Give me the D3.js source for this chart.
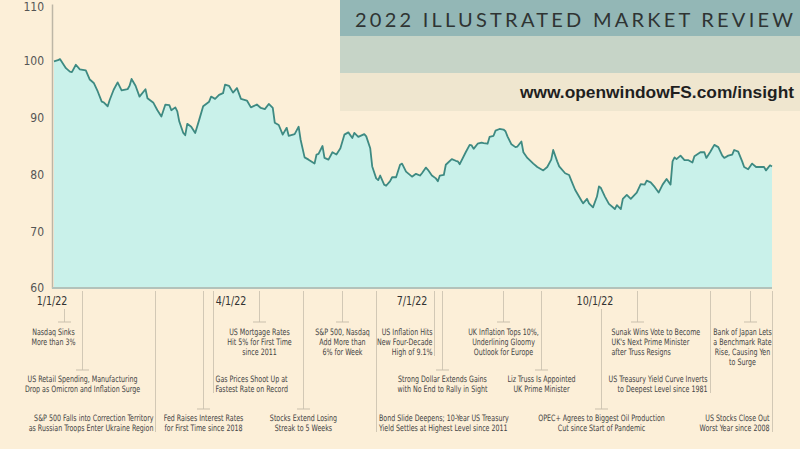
<!DOCTYPE html>
<html>
<head>
<meta charset="utf-8">
<script src="https://cdn.jsdelivr.net/npm/d3@7"></script>
<style>
  body { margin: 0; background: #fcefd8; }
  svg { display: block; }
  .narrow { font-family: "Liberation Sans Narrow", "DejaVu Sans Condensed", "Arial Narrow", sans-serif; }
</style>
</head>
<body>
<div id="chart"></div>
<script>
// index level through 2022 (start of year = 100)
var dates = [
  "2022-01-03","2022-01-05","2022-01-06","2022-01-09","2022-01-11","2022-01-12","2022-01-14","2022-01-16","2022-01-19","2022-01-21",
  "2022-01-23","2022-01-25","2022-01-27","2022-01-28","2022-01-30","2022-01-31","2022-02-02","2022-02-04","2022-02-06","2022-02-09",
  "2022-02-10","2022-02-11","2022-02-13","2022-02-15","2022-02-18","2022-02-19","2022-02-22","2022-02-24","2022-02-26","2022-02-28",
  "2022-03-02","2022-03-03","2022-03-05","2022-03-06","2022-03-07","2022-03-09","2022-03-10","2022-03-11","2022-03-13","2022-03-15",
  "2022-03-17","2022-03-19","2022-03-22","2022-03-23","2022-03-25","2022-03-27","2022-03-29","2022-03-30","2022-04-01","2022-04-03",
  "2022-04-05","2022-04-07","2022-04-10","2022-04-12","2022-04-15","2022-04-17","2022-04-19","2022-04-21","2022-04-23","2022-04-24",
  "2022-04-26","2022-04-28","2022-04-30","2022-05-01","2022-05-04","2022-05-06","2022-05-07","2022-05-09","2022-05-11","2022-05-14",
  "2022-05-15","2022-05-16","2022-05-18","2022-05-19","2022-05-21","2022-05-23","2022-05-25","2022-05-27","2022-05-29","2022-05-31",
  "2022-06-02","2022-06-03","2022-06-05","2022-06-08","2022-06-09","2022-06-11","2022-06-12","2022-06-14","2022-06-15","2022-06-16",
  "2022-06-18","2022-06-19","2022-06-21","2022-06-22","2022-06-24","2022-06-26","2022-06-27","2022-06-29","2022-07-02","2022-07-04",
  "2022-07-06","2022-07-07","2022-07-09","2022-07-10","2022-07-12","2022-07-14","2022-07-15","2022-07-16","2022-07-18","2022-07-19",
  "2022-07-22","2022-07-24","2022-07-25","2022-07-26","2022-07-29","2022-07-31","2022-08-01","2022-08-02","2022-08-04","2022-08-06",
  "2022-08-07","2022-08-09","2022-08-10","2022-08-12","2022-08-13","2022-08-15","2022-08-17","2022-08-18","2022-08-19","2022-08-21",
  "2022-08-23","2022-08-24","2022-08-26","2022-08-27","2022-08-29","2022-09-01","2022-09-03","2022-09-06","2022-09-08","2022-09-10",
  "2022-09-11","2022-09-13","2022-09-14","2022-09-17","2022-09-19","2022-09-20","2022-09-22","2022-09-25","2022-09-26","2022-09-28",
  "2022-09-29","2022-10-01","2022-10-03","2022-10-04","2022-10-05","2022-10-07","2022-10-09","2022-10-12","2022-10-13","2022-10-15",
  "2022-10-16","2022-10-18","2022-10-20","2022-10-23","2022-10-25","2022-10-27","2022-10-28","2022-10-30","2022-11-01","2022-11-03",
  "2022-11-05","2022-11-07","2022-11-09","2022-11-10","2022-11-11","2022-11-12","2022-11-14","2022-11-16","2022-11-18","2022-11-20",
  "2022-11-21","2022-11-24","2022-11-26","2022-11-27","2022-11-29","2022-12-01","2022-12-03","2022-12-05","2022-12-06","2022-12-08",
  "2022-12-10","2022-12-11","2022-12-13","2022-12-15","2022-12-16","2022-12-18","2022-12-20","2022-12-22","2022-12-24","2022-12-26",
  "2022-12-27","2022-12-29","2022-12-30"
];
var values = [
  99.9,100.1,100.3,98.7,98.1,98.0,99.3,98.5,98.3,96.7,
  96.1,94.6,92.8,92.7,92.0,93.1,94.9,96.2,94.8,95.0,
  95.6,96.8,95.6,93.7,95.0,93.4,92.6,91.3,90.2,92.3,
  92.2,91.3,91.8,91.1,89.3,87.3,86.9,88.9,88.4,87.3,
  89.6,92.0,92.8,93.7,93.3,94.0,94.3,95.8,95.6,94.4,
  95.2,93.3,93.0,91.8,92.3,91.7,91.5,92.4,91.7,89.1,
  88.7,87.0,88.2,86.8,87.1,88.4,86.1,83.0,82.6,81.9,
  83.5,83.6,85.0,82.9,82.6,83.9,83.5,84.6,87.0,87.4,
  86.4,87.3,86.6,87.1,86.7,84.6,81.4,79.3,79.0,79.8,
  78.2,78.0,78.8,79.5,79.5,81.7,81.9,80.5,79.6,80.1,
  79.8,80.2,81.2,80.8,79.8,79.3,78.8,79.8,79.9,81.7,
  82.7,82.4,82.3,81.8,83.9,85.2,85.1,84.5,85.4,85.6,
  85.5,85.4,86.6,86.8,87.7,88.0,87.9,87.6,86.7,85.3,
  84.8,84.9,85.8,83.9,82.9,81.9,81.3,80.7,81.3,82.6,
  84.3,82.3,81.4,80.2,79.9,79.0,77.3,75.5,74.9,75.7,
  74.9,74.2,76.1,77.9,77.6,76.1,74.8,73.9,74.6,73.9,
  75.7,76.4,75.7,76.8,78.3,78.2,78.9,78.6,77.8,76.8,
  78.2,79.2,78.2,82.3,83.0,82.7,83.3,82.5,82.5,82.1,
  83.2,83.9,83.9,82.9,84.0,85.2,84.8,83.3,82.9,83.3,
  83.5,84.3,84.0,82.3,81.3,80.9,81.9,81.3,81.3,81.3,
  80.7,81.6,81.4
];

var yTicks = [60, 70, 80, 90, 100, 110];
var quarterDates = ["2022-01-01", "2022-04-01", "2022-07-01", "2022-10-01"];
var quarterLabels = ["1/1/22", "4/1/22", "7/1/22", "10/1/22"];

var titleText = "2022 ILLUSTRATED MARKET REVIEW";
var urlText = "www.openwindowFS.com/insight";

var eventDates = [
  "2022-01-08","2022-01-17","2022-02-23","2022-03-19","2022-03-24","2022-04-16","2022-05-08","2022-05-28","2022-06-14",
  "2022-07-13","2022-07-17","2022-08-17","2022-09-05","2022-10-05","2022-10-23","2022-11-29","2022-12-19","2022-12-30"
];
var eventTexts = [
  ["Nasdaq Sinks", "More than 3%"],
  ["US Retail Spending, Manufacturing", "Drop as Omicron and Inflation Surge"],
  ["S&P 500 Falls into Correction Territory", "as Russian Troops Enter Ukraine Region"],
  ["Fed Raises Interest Rates", "for First Time since 2018"],
  ["Gas Prices Shoot Up at", "Fastest Rate on Record"],
  ["US Mortgage Rates", "Hit 5% for First Time", "since 2011"],
  ["Stocks Extend Losing", "Streak to 5 Weeks"],
  ["S&P 500, Nasdaq", "Add More than", "6% for Week"],
  ["Bond Slide Deepens; 10-Year US Treasury", "Yield Settles at Highest Level since 2011"],
  ["US Inflation Hits", "New Four-Decade", "High of 9.1%"],
  ["Strong Dollar Extends Gains", "with No End to Rally in Sight"],
  ["UK Inflation Tops 10%,", "Underlining Gloomy", "Outlook for Europe"],
  ["Liz Truss Is Appointed", "UK Prime Minister"],
  ["OPEC+ Agrees to Biggest Oil Production", "Cut since Start of Pandemic"],
  ["Sunak Wins Vote to Become", "UK's Next Prime Minister", "after Truss Resigns"],
  ["US Treasury Yield Curve Inverts", "to Deepest Level since 1981"],
  ["Bank of Japan Lets", "a Benchmark Rate", "Rise, Causing Yen", "to Surge"],
  ["US Stocks Close Out", "Worst Year since 2008"]
];

function init() {
    var w = 800;
    var h = 449;
    var squeeze = 0.8;   // horizontal squeeze to mimic the condensed face
    var parse = d3.timeParse("%Y-%m-%d");

    var dataset = dates.map(function(d, i) { return { date: parse(d), value: values[i] }; });

    // layout of each annotation: row (0..2), leader kind, text anchor, text offset
    var eventLayout = [
        { row: 0, kind: "tick", anchor: "middle", dx: -11 },
        { row: 1, kind: "tick", anchor: "middle", dx: 0 },
        { row: 2, kind: "side", anchor: "end", dx: -2 },
        { row: 2, kind: "tick", anchor: "middle", dx: 0 },
        { row: 1, kind: "side", anchor: "start", dx: 2 },
        { row: 0, kind: "tick", anchor: "middle", dx: 0 },
        { row: 2, kind: "tick", anchor: "middle", dx: 0 },
        { row: 0, kind: "tick", anchor: "middle", dx: 0 },
        { row: 2, kind: "side", anchor: "start", dx: 2.5 },
        { row: 0, kind: "side", anchor: "end", dx: -2 },
        { row: 1, kind: "tick", anchor: "middle", dx: 0 },
        { row: 0, kind: "tick", anchor: "middle", dx: 0 },
        { row: 1, kind: "tick", anchor: "middle", dx: 0 },
        { row: 2, kind: "tick", anchor: "middle", dx: 0 },
        { row: 0, kind: "tick", anchor: "start", dx: -26 },
        { row: 1, kind: "side", anchor: "end", dx: -3 },
        { row: 0, kind: "tick", anchor: "middle", dx: -8 },
        { row: 2, kind: "side", anchor: "end", dx: -3 }
    ];
    var rowTick = [322, 370, 409];
    var rowText = [332, 379, 418];

    // scales
    var xScale = d3.scaleTime()
                   .domain([parse("2022-01-02"), parse("2022-12-30")])
                   .range([52, 772]);
    var yScale = d3.scaleLinear()
                   .domain([60, 110])
                   .range([288, 4]);

    var svg = d3.select("#chart")
                .append("svg")
                .attr("width", w)
                .attr("height", h);

    svg.append("rect")
       .attr("width", w)
       .attr("height", h)
       .attr("fill", "#fcefd8");

    // area + line
    var area = d3.area()
                 .x(function(d) { return xScale(d.date); })
                 .y0(yScale(60))
                 .y1(function(d) { return yScale(d.value); });
    var line = d3.line()
                 .x(function(d) { return xScale(d.date); })
                 .y(function(d) { return yScale(d.value); });

    svg.append("path")
       .datum(dataset)
       .attr("d", area)
       .attr("fill", "#c9f1ea");

    svg.append("path")
       .datum(dataset)
       .attr("d", line)
       .attr("fill", "none")
       .attr("stroke", "#3e8a82")
       .attr("stroke-width", 1.8)
       .attr("stroke-linejoin", "round");

    // title bands
    var bandX = 340;
    svg.append("rect").attr("x", bandX).attr("y", 0).attr("width", w - bandX).attr("height", 36).attr("fill", "#93b7b6");
    svg.append("rect").attr("x", bandX).attr("y", 36).attr("width", w - bandX).attr("height", 37).attr("fill", "#c6d4c7");
    svg.append("rect").attr("x", bandX).attr("y", 73).attr("width", w - bandX).attr("height", 38).attr("fill", "#efe6cf");

    svg.append("text")
       .attr("x", 355)
       .attr("y", 27)
       .attr("textLength", 438)
       .attr("lengthAdjust", "spacing")
       .style("font-family", "Lato, 'Open Sans', sans-serif")
       .style("font-weight", 400)
       .style("font-size", "20px")
       .style("fill", "#2f3433")
       .text(titleText);

    svg.append("text")
       .attr("x", 794)
       .attr("y", 98)
       .attr("text-anchor", "end")
       .attr("textLength", 274)
       .attr("lengthAdjust", "spacingAndGlyphs")
       .style("font-family", "'Liberation Sans', Arial, sans-serif")
       .style("font-weight", "bold")
       .style("font-size", "17px")
       .style("fill", "#1f1f1f")
       .text(urlText);

    // y axis
    var yAxis = d3.axisLeft(yScale)
                  .tickValues(yTicks)
                  .tickSize(0)
                  .tickPadding(8);
    var gy = svg.append("g")
                .attr("transform", "translate(52,0)")
                .call(yAxis);
    gy.select(".domain").attr("stroke", "#bdb6a6").attr("stroke-width", 1.5);
    gy.selectAll("text")
      .attr("class", "narrow")
      .attr("dy", function(d) { return d === 110 ? "0.55em" : "0.32em"; })
      .style("font-size", "12px")
      .style("fill", "#555");

    // x axis line
    svg.append("line")
       .attr("x1", 52).attr("x2", 772)
       .attr("y1", yScale(60)).attr("y2", yScale(60))
       .attr("stroke", "#b3c2ba")
       .attr("stroke-width", 2);

    // quarter labels
    var qPos = quarterDates.map(function(d) { return xScale(parse(d)) + 2; });
    svg.selectAll("qlabels")
       .data(quarterLabels)
       .enter()
       .append("text")
         .attr("class", "narrow")
         .attr("transform", function(d, i) { return "translate(" + qPos[i] + ",305) scale(0.85,1)"; })
         .attr("text-anchor", "middle")
         .style("font-size", "12.5px")
         .style("fill", "#333")
         .text(function(d) { return d; });

    // annotations
    var g = svg.append("g");
    eventDates.forEach(function(d, i) {
        var lay = eventLayout[i];
        var lines = eventTexts[i];
        var x = Math.round(xScale(parse(d))) + 0.5;
        var nearLabel = qPos.some(function(q) { return Math.abs(q - x) < 17; });
        var y0 = nearLabel ? 309 : 291;
        var y1 = lay.kind === "tick" ? rowTick[lay.row] : rowText[lay.row] + (lines.length - 1) * 10 + 4;

        g.append("line")
         .attr("x1", x).attr("x2", x)
         .attr("y1", y0).attr("y2", y1)
         .attr("stroke", "#d2c8b5")
         .attr("stroke-width", 1);
        if (lay.kind === "tick") {
            g.append("line")
             .attr("x1", x - 6.5).attr("x2", x + 6.5)
             .attr("y1", y1).attr("y2", y1)
             .attr("stroke", "#c9bfac")
             .attr("stroke-width", 1);
        }
        g.selectAll(null)
         .data(lines)
         .enter()
         .append("text")
           .attr("class", "narrow")
           .attr("transform", function(t, j) {
               return "translate(" + (x + lay.dx) + "," + (rowText[lay.row] + j * 10) + ") scale(" + squeeze + ",1)";
           })
           .attr("dy", "0.35em")
           .attr("text-anchor", lay.anchor)
           .style("font-size", "8.8px")
           .style("fill", "#444")
           .text(function(t) { return t; });
    });
}
window.onload = init;
</script>
</body>
</html>
